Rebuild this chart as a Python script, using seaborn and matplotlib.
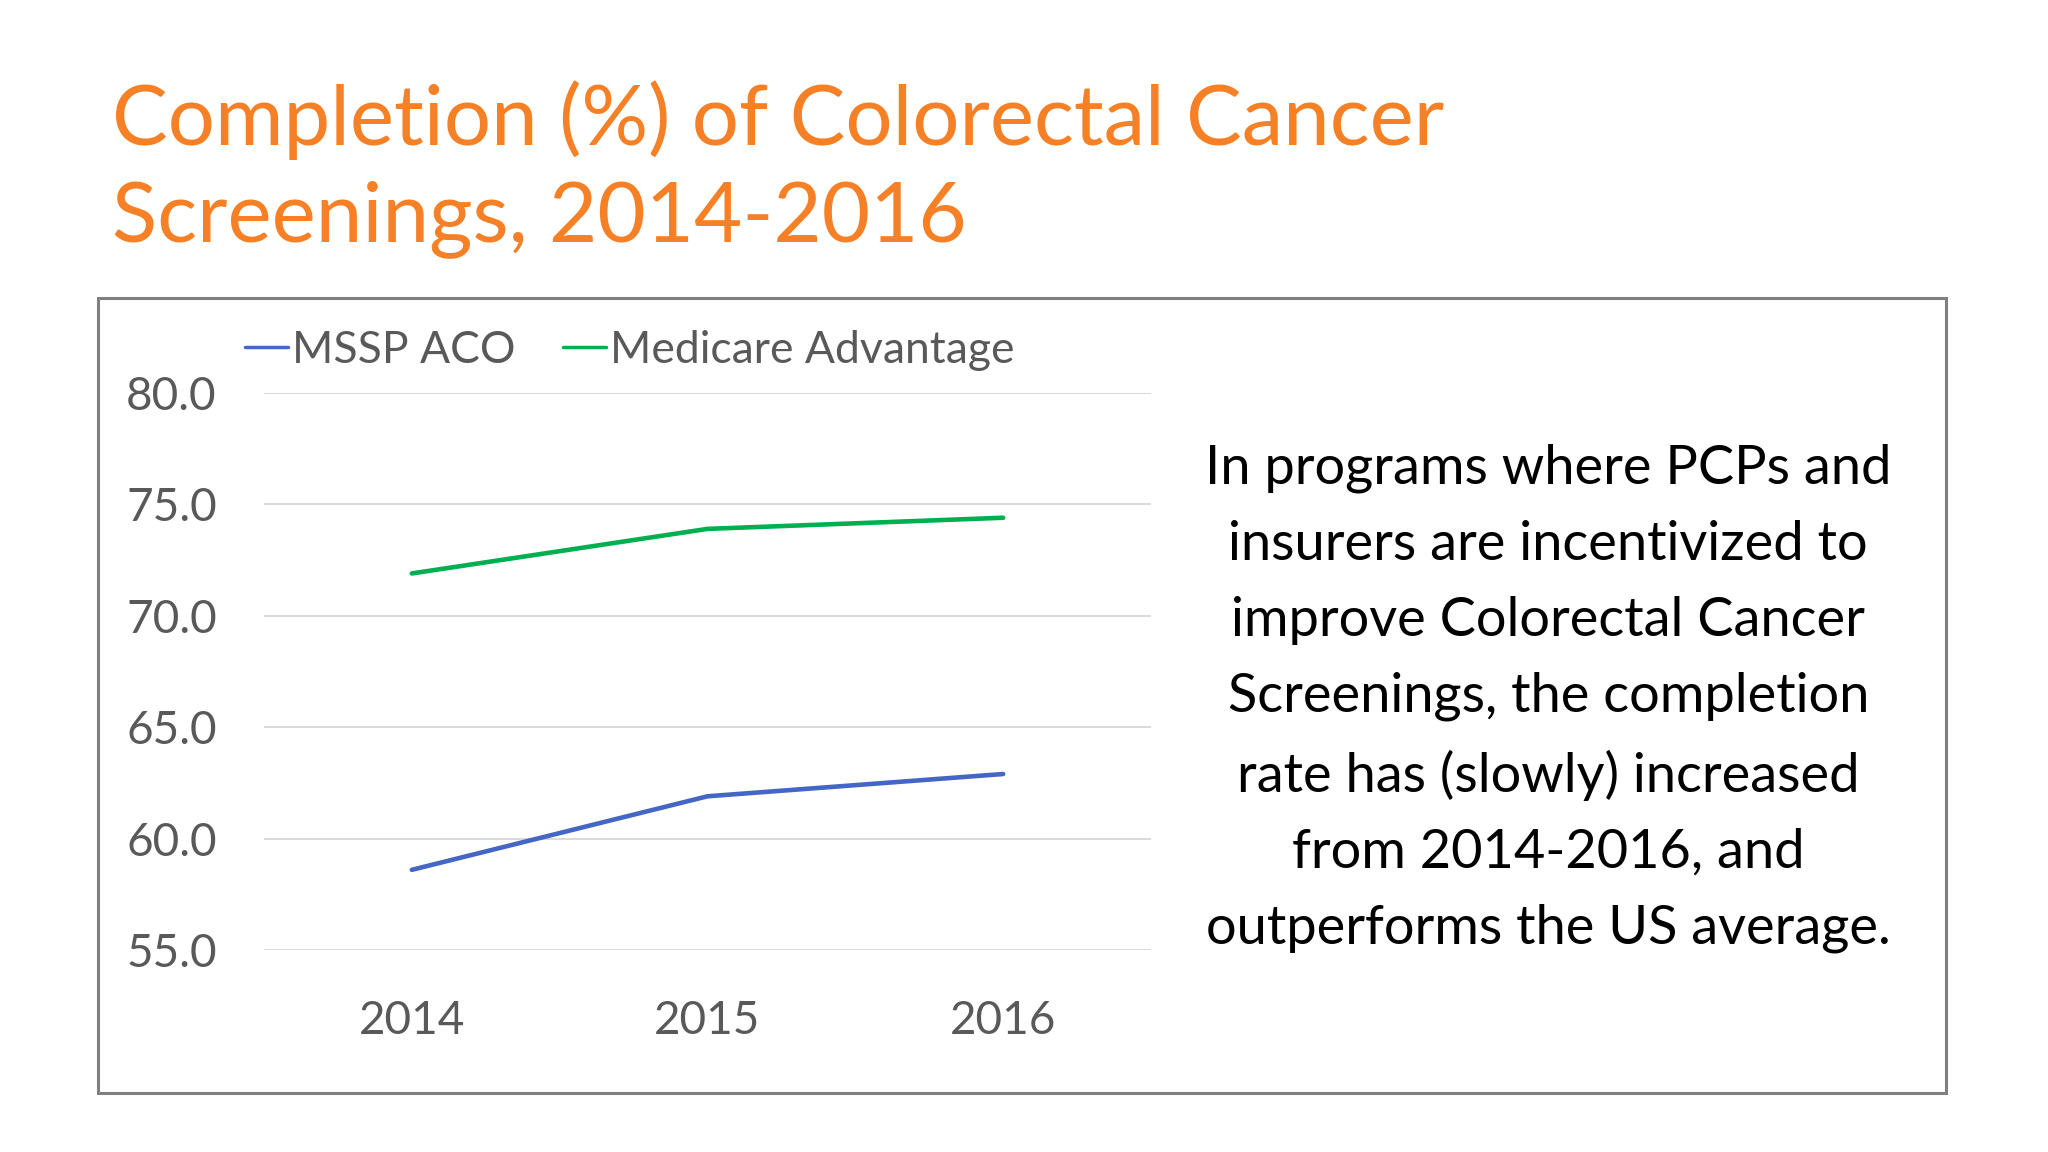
import pandas as pd
import seaborn as sns
import matplotlib.pyplot as plt
from matplotlib.patches import Rectangle

# Chart data
years = ["2014", "2015", "2016"]
mssp_aco = [58.6, 61.9, 62.9]
medicare_adv = [71.9, 73.9, 74.4]
series_names = ["MSSP ACO", "Medicare Advantage"]
y_ticks = [55, 60, 65, 70, 75, 80]

title_text = "Completion (%) of Colorectal Cancer\nScreenings, 2014-2016"
side_text = ("In programs where PCPs and\ninsurers are incentivized to\n"
             "improve Colorectal Cancer\nScreenings, the completion\n"
             "rate has (slowly) increased\nfrom 2014-2016, and\n"
             "outperforms the US average.")

# Long-form table for seaborn
df = pd.DataFrame({
    "Year": years * 2,
    "Completion": mssp_aco + medicare_adv,
    "Program": [series_names[0]] * 3 + [series_names[1]] * 3,
})

sns.set_theme(style="white")
plt.rcParams['font.family'] = ['Lato', 'DejaVu Sans']

fig = plt.figure(figsize=(20.48, 11.52), dpi=100)
fig.patch.set_facecolor("white")

# Border around chart + text
fig.patches.append(Rectangle((0.0479, 0.0512), 0.9023, 0.6901, transform=fig.transFigure,
                             fill=False, edgecolor="#808080", linewidth=2.2, zorder=0))

ax = fig.add_axes([0.1289, 0.1753, 0.4331, 0.4836])
palette = {series_names[0]: "#4466C4", series_names[1]: "#00B050"}
sns.lineplot(data=df, x="Year", y="Completion", hue="Program", palette=palette,
             linewidth=3.3, ax=ax, sort=False)

ax.set_xlim(-0.5, 2.5)
ax.set_ylim(55, 80)
ax.set_yticks(y_ticks)
ax.set_yticklabels([f"{v:.1f}" for v in y_ticks])
ax.set_xlabel("")
ax.set_ylabel("")
ax.grid(axis="y", color="#d9d9d9", linewidth=1.4)
ax.set_axisbelow(True)
for s in ax.spines.values():
    s.set_visible(False)
ax.tick_params(axis="y", length=0, pad=34, labelsize=33, labelcolor="#595959")
ax.tick_params(axis="x", length=0, pad=36, labelsize=33, labelcolor="#595959")

leg = ax.legend(loc="lower left", bbox_to_anchor=(-0.042, 1.008), ncol=2, frameon=False,
                fontsize=32, handlelength=0.97, handletextpad=0.09, columnspacing=1.07,
                labelcolor="#595959", borderaxespad=0)
for line in leg.get_lines():
    line.set_linewidth(2.5)

# Title
fig.text(0.0545, 0.9306, title_text, ha="left", va="top", fontsize=60, color="#F58025",
         linespacing=1.33)

# Side text
fig.text(0.756, 0.394, side_text, ha="center", va="center", fontsize=39, color="black",
         linespacing=1.67)

plt.savefig("out.png", dpi=100)
